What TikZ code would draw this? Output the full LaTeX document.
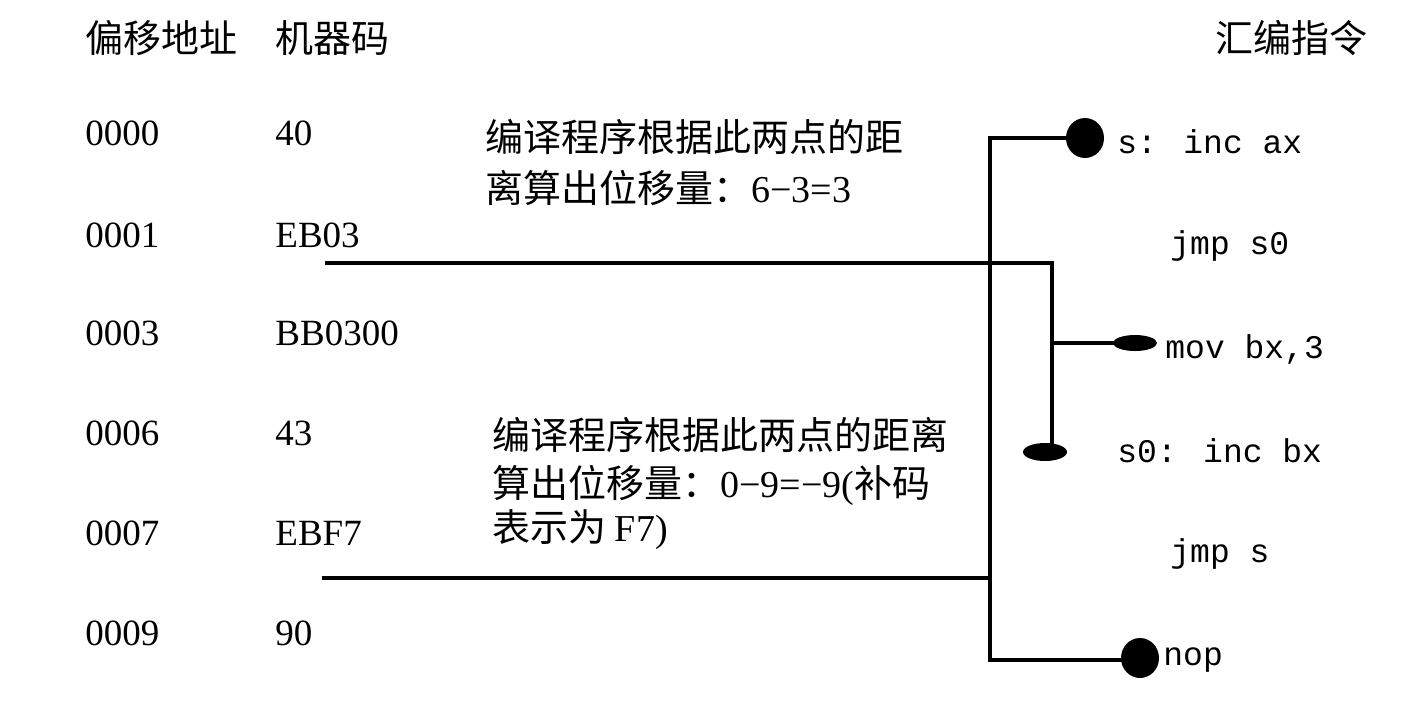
\documentclass[tikz,border=0pt]{standalone}
\usepackage{fontspec}
\setmainfont{Liberation Serif}
\newfontfamily\cjk{Noto Sans CJK SC}
\newfontfamily\mono{Liberation Mono}
\begin{document}
\begin{tikzpicture}[x=0.5pt,y=-0.5pt,
  lbl/.style={anchor=west,inner sep=0pt,font=\fontsize{18.5}{22}\selectfont},
  cn/.style={anchor=west,inner sep=0pt,font=\cjk\fontsize{19}{25}\selectfont},
  asm/.style={anchor=west,inner sep=0pt,font=\mono\fontsize{16.5}{20}\selectfont},
  wire/.style={line width=2pt},
  bigdot/.style={fill=black,ellipse,draw=none}]
\useasboundingbox (0,0) rectangle (1426,720);
\node[cn] (h1) at (85,38) {偏移地址};
\node[cn] (h2) at (275,38) {机器码};
\node[cn] (h3) at (1215,38) {汇编指令};
\foreach \o/\c/\y/\n in {0000/40/133/a,0001/EB03/235/b,0003/BB0300/333/c,0006/43/433/d,0007/EBF7/533/e,0009/90/633/f}{
  \node[lbl] (off\n) at (85,\y) {\o};
  \node[lbl] (code\n) at (275,\y) {\c};
}
\node[cn] (t1) at (485,137) {编译程序根据此两点的距};
\node[cn] (t2) at (485,188) {离算出位移量：\rmfamily 6−3=3};
\node[cn] (t3) at (492,435) {编译程序根据此两点的距离};
\node[cn] (t4) at (492,485) {算出位移量：\rmfamily 0−9=−9(\cjk 补码};
\node[cn] (t5) at (492,530) {表示为 \rmfamily F7)};
\node[asm] (s1) at (1117,142) {s: inc ax};
\node[asm] (s2) at (1170,246) {jmp s0};
\node[asm] (s3) at (1165,349) {mov bx,3};
\node[asm] (s4) at (1117,451) {s0: inc bx};
\node[asm] (s5) at (1170,554) {jmp s};
\node[asm] (s6) at (1163,660) {nop};
% first jump
\coordinate (j1a) at (325,263);
\coordinate (j1b) at (1052,263);
\coordinate (j1c) at (1052,445);
\coordinate (j1d) at (1052,343);
\coordinate (j1e) at (1135,343);
\draw[wire] (j1a) -- (j1b) -- (j1c);
\draw[wire] (j1d) -- (j1e);
\fill (j1e) ellipse (22 and 8);
\fill (1045,452) ellipse (22 and 9);
% second jump
\coordinate (j2a) at (322,578);
\coordinate (j2b) at (990,578);
\coordinate (j2t) at (990,138);
\coordinate (j2u) at (990,660);
\coordinate (j2v) at (1080,138);
\coordinate (j2w) at (1140,660);
\draw[wire] (j2a) -- (j2b);
\draw[wire] (j2v) -- (j2t) -- (j2u) -- (j2w);
\fill (1085,138) ellipse (19 and 20);
\fill (1140,658) ellipse (19 and 20);
\end{tikzpicture}
\end{document}
